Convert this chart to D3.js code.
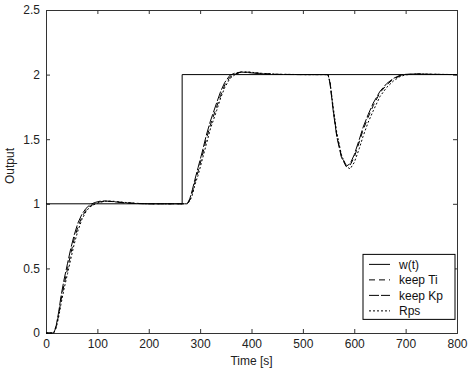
<!DOCTYPE html>
<html>
<head>
<meta charset="utf-8">
<script src="https://cdn.jsdelivr.net/npm/d3@7"></script>
<style>
  body { margin: 0; background: #fff; }
  text { font-family: "Liberation Sans", Arial, sans-serif; }
</style>
</head>
<body>
<div id="chart"></div>
<script>
// reference signal w(t)
const wTime  = [0, 265, 265, 800];
const wValue = [1, 1, 2, 2];

// responses, sampled by eye
const respTime = [0, 15, 20, 25, 29, 35, 42, 48, 55, 62, 70, 78, 85, 92, 97, 105, 115, 130, 150, 175, 200,
                  265, 275, 280, 285, 290, 296, 304, 312, 320, 332, 340, 348, 358, 368, 380, 395, 420, 450, 500,
                  549, 553, 559, 566, 575, 584, 592, 600, 610, 617, 627, 637, 650, 663, 676, 689, 700, 720, 750, 800];

const keepTi = [0, 0, 0.05, 0.15, 0.25, 0.37, 0.5, 0.61, 0.73, 0.82, 0.9, 0.95, 0.98, 0.995, 1.005, 1.015, 1.02, 1.018, 1.01, 1.003, 1.0,
                1.0, 1.0, 1.03, 1.09, 1.17, 1.25, 1.37, 1.5, 1.61, 1.75, 1.84, 1.92, 1.98, 2.005, 2.02, 2.018, 2.008, 2.002, 2.0,
                2.0, 1.93, 1.73, 1.53, 1.37, 1.3, 1.3, 1.36, 1.48, 1.57, 1.67, 1.76, 1.86, 1.92, 1.965, 1.99, 2.0, 2.005, 2.002, 2.0];

const keepKp = [0, 0, 0.06, 0.17, 0.28, 0.41, 0.54, 0.65, 0.76, 0.85, 0.92, 0.965, 0.99, 1.005, 1.012, 1.02, 1.022, 1.017, 1.008, 1.002, 1.0,
                1.0, 1.0, 1.04, 1.11, 1.19, 1.28, 1.4, 1.53, 1.64, 1.78, 1.87, 1.94, 1.995, 2.012, 2.02, 2.015, 2.006, 2.001, 2.0,
                2.0, 1.93, 1.72, 1.52, 1.36, 1.29, 1.31, 1.38, 1.5, 1.59, 1.69, 1.78, 1.87, 1.93, 1.97, 1.995, 2.002, 2.005, 2.002, 2.0];

const rps    = [0, 0, 0.04, 0.13, 0.22, 0.34, 0.46, 0.57, 0.69, 0.79, 0.88, 0.94, 0.975, 0.99, 1.0, 1.012, 1.02, 1.02, 1.012, 1.004, 1.0,
                1.0, 1.0, 1.02, 1.07, 1.15, 1.22, 1.34, 1.46, 1.58, 1.72, 1.82, 1.9, 1.97, 2.0, 2.02, 2.02, 2.01, 2.003, 2.0,
                2.0, 1.94, 1.75, 1.55, 1.38, 1.29, 1.27, 1.32, 1.43, 1.52, 1.63, 1.72, 1.83, 1.9, 1.95, 1.985, 1.998, 2.005, 2.003, 2.0];

const xTicks = [0, 100, 200, 300, 400, 500, 600, 700, 800];
const yTicks = [0, 0.5, 1, 1.5, 2, 2.5];

const legendNames = ["w(t)", "keep Ti", "keep Kp", "Rps"];
const legendDash  = [null, "6,4", "10,2", "2,2"];

const W = 474, H = 377;
const margin = {top: 10, right: 17, bottom: 44, left: 46};
const width = W - margin.left - margin.right,
      height = H - margin.top - margin.bottom;

const svg = d3.select("#chart").append("svg")
    .attr("width", W).attr("height", H);
const g = svg.append("g")
    .attr("transform", `translate(${margin.left},${margin.top})`);

const x = d3.scaleLinear().domain([0, 800]).range([0, width]);
const y = d3.scaleLinear().domain([0, 2.5]).range([height, 0]);

// axes, matlab style ticks pointing inside
const tickLen = 4;
g.append("g").attr("transform", `translate(0,${height})`)
  .call(d3.axisBottom(x).tickValues(xTicks).tickSize(-tickLen).tickPadding(6).tickFormat(d3.format("d")));
g.append("g").call(d3.axisTop(x).tickValues(xTicks).tickSize(-tickLen).tickFormat(""));
g.append("g")
  .call(d3.axisLeft(y).tickValues(yTicks).tickSize(-tickLen).tickPadding(6).tickFormat(d => d));
g.append("g").attr("transform", `translate(${width},0)`)
  .call(d3.axisRight(y).tickValues(yTicks).tickSize(-tickLen).tickFormat(""));

g.selectAll(".domain").attr("stroke", "#333");
g.selectAll(".tick line").attr("stroke", "#333");
g.selectAll(".tick text").attr("fill", "#222").style("font-size", "12px")
  .style("font-family", "'Liberation Sans', Arial, sans-serif");

const line = d3.line().x(d => x(d[0])).y(d => y(d[1]));

g.append("path")
  .datum(wTime.map((t, i) => [t, wValue[i]]))
  .attr("d", line).attr("fill", "none").attr("stroke", "#000").attr("stroke-width", 1);

[keepTi, keepKp, rps].forEach((vals, k) => {
  g.append("path")
    .datum(respTime.map((t, i) => [t, vals[i]]))
    .attr("d", line).attr("fill", "none").attr("stroke", "#000").attr("stroke-width", 1)
    .attr("stroke-dasharray", legendDash[k + 1]);
});

// legend, tucked into the lower right corner
const lg = g.append("g").attr("transform", `translate(${width - 94},${y(0.6085)})`);
lg.append("rect").attr("width", 92).attr("height", 65)
  .attr("fill", "#fff").attr("stroke", "#000");
legendNames.forEach((name, i) => {
  const yy = 10 + i * 15.5;
  lg.append("line").attr("x1", 6).attr("x2", 27).attr("y1", yy).attr("y2", yy)
    .attr("stroke", "#000").attr("stroke-dasharray", legendDash[i]);
  lg.append("text").attr("x", 36).attr("y", yy + 4.5)
    .style("font-size", "12px").attr("fill", "#111").text(name);
});

// axis labels
svg.append("text").attr("x", margin.left + x(400)).attr("y", 365)
  .attr("text-anchor", "middle").style("font-size", "12px").attr("fill", "#222").text("Time [s]");
svg.append("text").attr("transform", "translate(14,166) rotate(-90)")
  .attr("text-anchor", "middle").style("font-size", "12px").attr("fill", "#222").text("Output");
</script>
</body>
</html>
